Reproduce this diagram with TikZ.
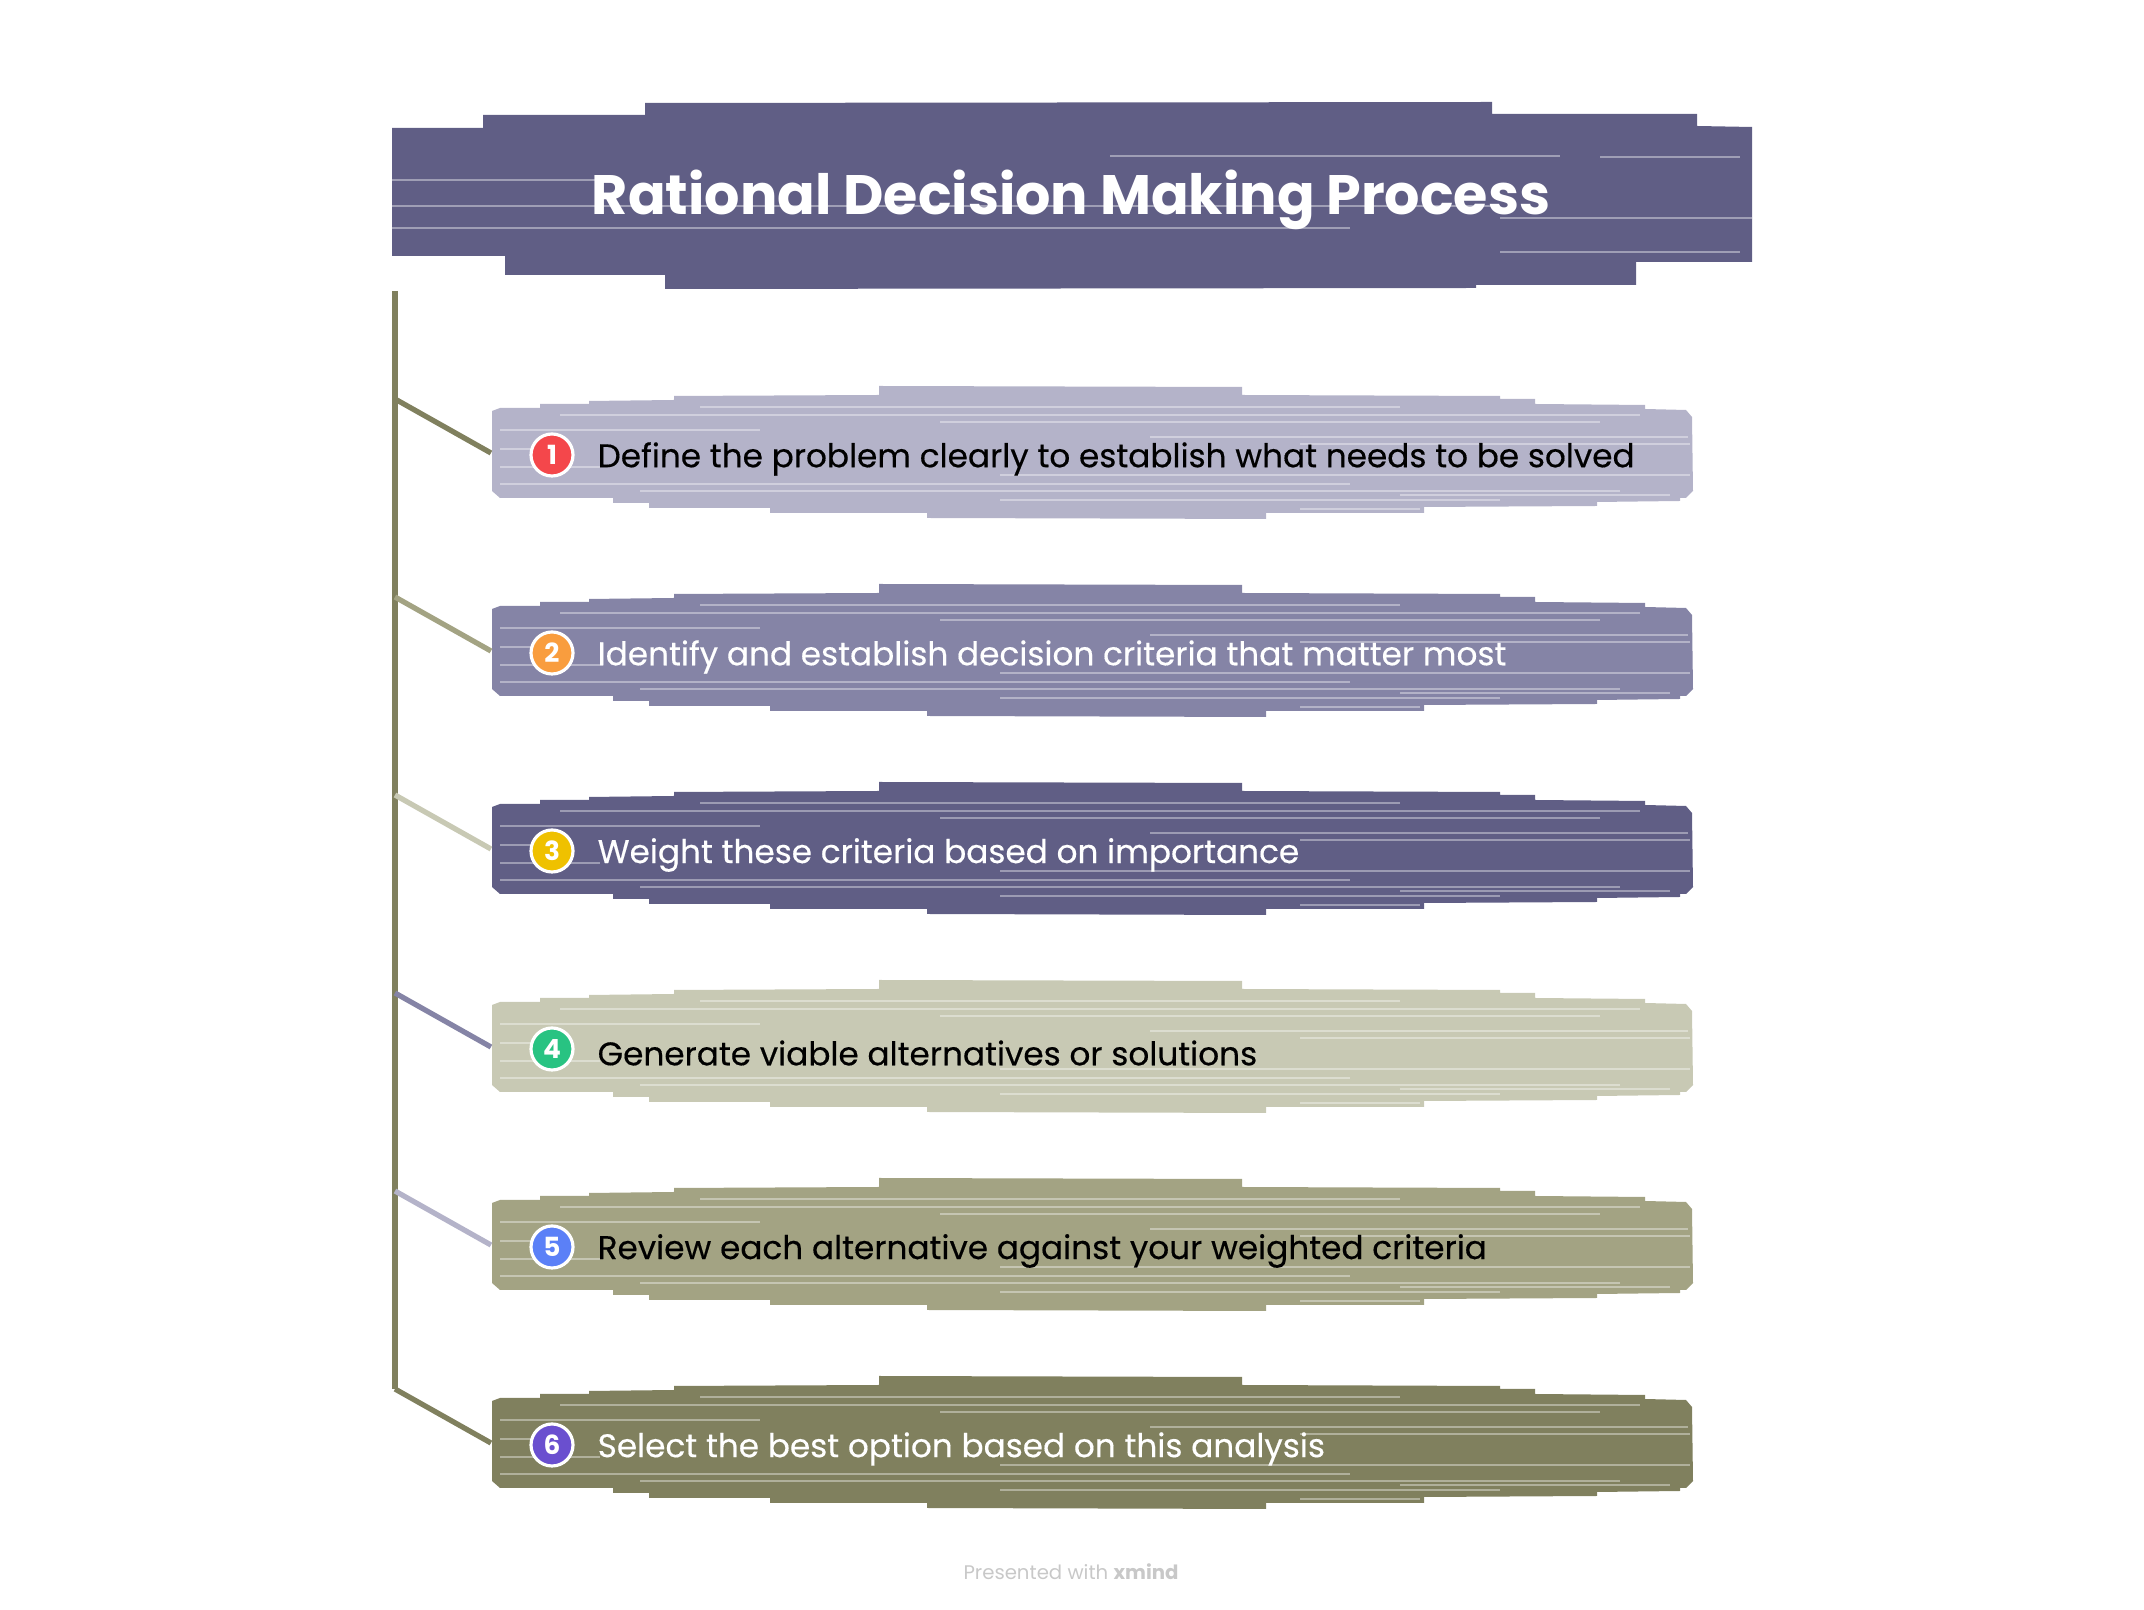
\documentclass[tikz,border=0pt]{standalone}
\usepackage{fontspec}
\setmainfont{Poppins}
\newfontfamily\stepfont[FakeBold=0.35]{Poppins}
\usepackage{tikz}
\usepackage{xcolor}
\usetikzlibrary{calc}
\definecolor{palelilac}{RGB}{180,179,201}
\definecolor{midlilac}{RGB}{133,132,166}
\definecolor{deepindigo}{RGB}{96,94,133}
\definecolor{palesage}{RGB}{200,201,180}
\definecolor{midsage}{RGB}{163,163,131}
\definecolor{deepolive}{RGB}{128,128,94}
\definecolor{markred}{RGB}{244,71,75}
\definecolor{markorange}{RGB}{249,157,62}
\definecolor{markyellow}{RGB}{239,193,0}
\definecolor{markgreen}{RGB}{40,195,130}
\definecolor{markblue}{RGB}{91,128,247}
\definecolor{markviolet}{RGB}{106,79,207}
\definecolor{footgray}{RGB}{200,200,200}
% rough brush bar, centred on y = #2
\newcommand{\brushbar}[2]{%
  \begin{scope}[shift={(0,#2)}]
    \fill[#1] (492,-44) -- (500,-47) -- (540,-47) -- (540,-51) -- (589,-51) -- (589,-54)
      -- (674,-55) -- (674,-59) -- (879,-60) -- (879,-69) -- (1242,-68) -- (1242,-60)
      -- (1500,-59) -- (1500,-56) -- (1535,-56) -- (1535,-51) -- (1645,-50) -- (1645,-46)
      -- (1686,-45) -- (1692,-38) -- (1693,36) -- (1686,43) -- (1680,43) -- (1680,46)
      -- (1597,47) -- (1597,51) -- (1424,52) -- (1424,58) -- (1266,58) -- (1266,64)
      -- (927,63) -- (927,58) -- (770,58) -- (770,53) -- (649,53) -- (649,48)
      -- (613,48) -- (613,43) -- (500,43) -- (492,36) -- cycle;
    \foreach \dy/\xa/\xb in {-48/700/1400, -40/560/1640, -33/940/1600, -25/500/760,
        -18/1150/1688, -11/1300/1690, -6/500/540, 12/500/600, 20/1000/1690, 29/500/1350,
        36/640/1620, 40/1400/1670, 45/1000/1500, 54/1300/1420}
      \draw[white, opacity=.38, line width=.4pt] (\xa,\dy) -- (\xb,\dy);
  \end{scope}}

\begin{document}
\begin{tikzpicture}[x=0.01cm, y=-0.01cm,
    trunk/.style={deepolive, line width=1.5pt},
    branch/.style={line width=1.5pt},
    stepbar/.style={minimum width=12.0cm, minimum height=0.95cm, inner sep=0pt},
    marker/.style={circle, draw=white, line width=0.9pt, minimum size=0.42cm, inner sep=0pt,
      text=white, font=\fontsize{7.5}{8}\selectfont\bfseries},
    steptext/.style={anchor=west, inner sep=0pt, font=\fontsize{9.3}{11}\stepfont}]
    \useasboundingbox (0,0) rectangle (2144,1610);

    % title banner
    \fill[deepindigo] (392,128) -- (483,128) -- (483,115) -- (645,115) -- (645,103)
      -- (1492,102) -- (1492,114) -- (1697,114) -- (1697,126) -- (1752,127)
      -- (1752,262) -- (1636,262) -- (1636,285) -- (1476,285) -- (1476,288)
      -- (665,289) -- (665,275) -- (505,275) -- (505,256) -- (392,256) -- cycle;
    \foreach \dy/\xa/\xb in {156/1110/1560, 157/1600/1740, 180/392/620, 206/392/1500,
        218/1500/1752, 228/392/1350, 252/1500/1740}
      \draw[white, opacity=.4, line width=.5pt] (\xa,\dy) -- (\xb,\dy);
    \node[white, font=\fontsize{15.8}{18}\selectfont\bfseries] (title) at (1071,200)
      {Rational Decision Making Process};

    % trunk
    \coordinate (top) at (395,291);
    \coordinate (j6) at (395,1389);
    \draw[trunk] (top) -- (j6);

    % steps
    \foreach \i/\y/\fillc/\textc/\linec/\markc/\label in {
        1/455/palelilac/black/deepolive/markred/Define the problem clearly to establish what needs to be solved,
        2/653/midlilac/white/midsage/markorange/Identify and establish decision criteria that matter most,
        3/851/deepindigo/white/palesage/markyellow/Weight these criteria based on importance,
        4/1049/palesage/black/midlilac/markgreen/Generate viable alternatives or solutions,
        5/1247/midsage/black/palelilac/markblue/Review each alternative against your weighted criteria,
        6/1445/deepolive/white/deepolive/markviolet/Select the best option based on this analysis} {
      \brushbar{\fillc}{\y}
      \node[stepbar] (b\i) at (1092,\y) {};
      \coordinate (j\i) at (395,\y-56);
      \draw[branch, \linec] (j\i) -- ($(b\i.west)+(0,-2)$);
      \node[marker, fill=\markc] (m\i) at (552,\y) {\i};
      \node[steptext, text=\textc] (t\i) at (597,\y+4) {\label};
    }

    % footer
    \node[text=footgray, font=\fontsize{5.6}{7}\selectfont] (foot) at (1071,1572)
      {Presented with \textbf{xmind}};
\end{tikzpicture}
\end{document}
